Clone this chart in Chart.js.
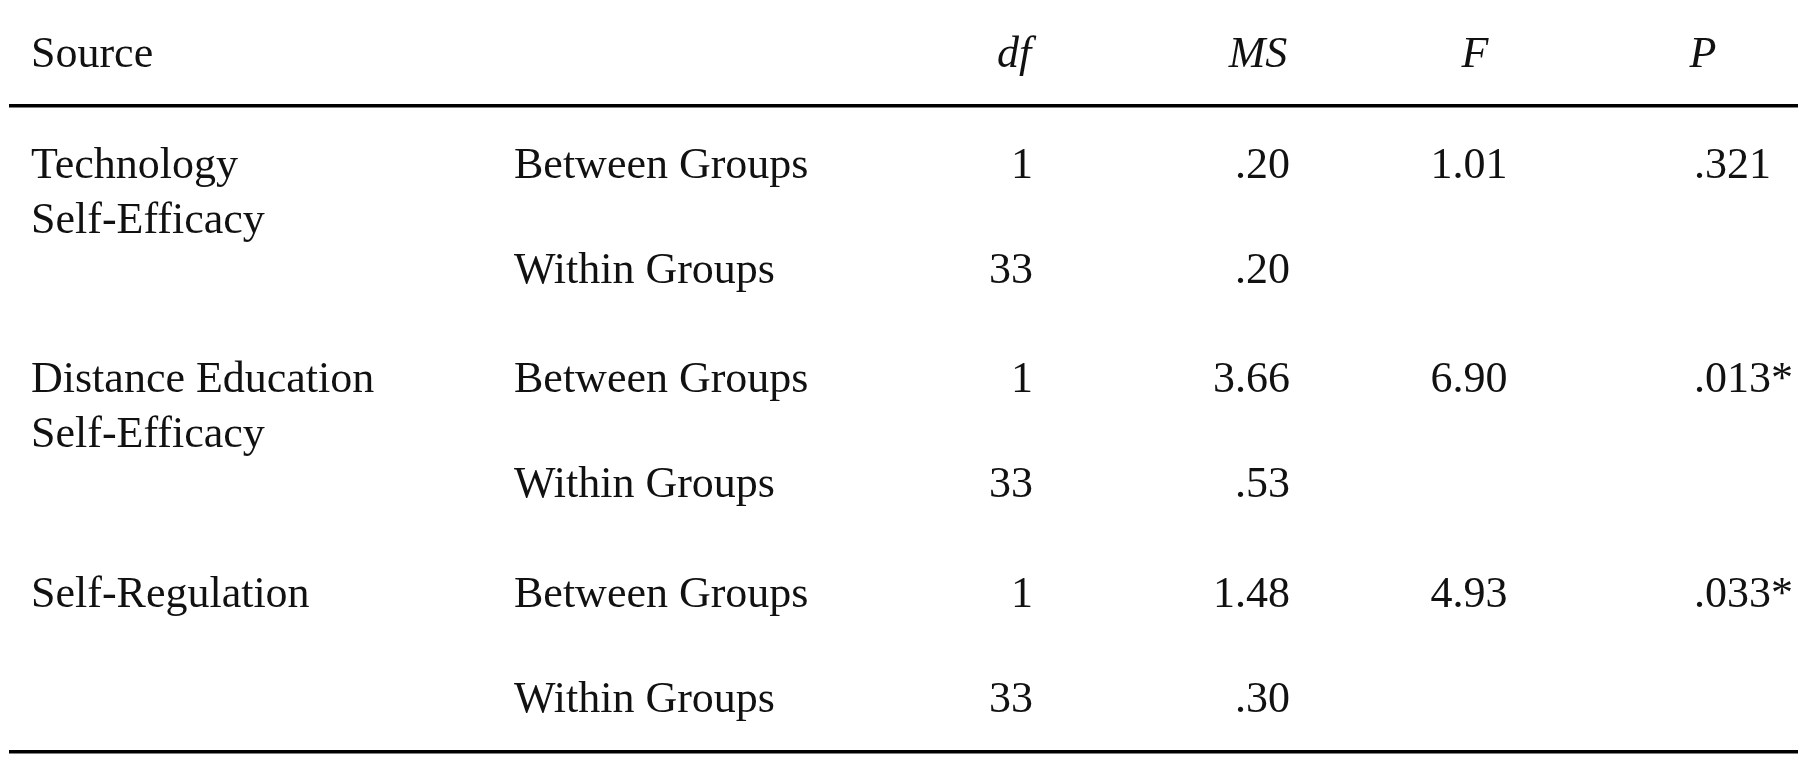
<!DOCTYPE html>
<html><head><meta charset="utf-8">
<script src="https://cdn.jsdelivr.net/npm/chart.js@4"></script>
<style>html,body{margin:0;padding:0;background:#fff}canvas{display:block}</style>
</head><body>
<canvas id="c" width="1798" height="757"></canvas>
<script>
const headers = ["Source", "", "df", "MS", "F", "P"];
const sources = ["Technology\nSelf-Efficacy", "Distance Education\nSelf-Efficacy", "Self-Regulation"];
const groups = ["Between Groups", "Within Groups"];
const dfValues = [["1","33"],["1","33"],["1","33"]];
const msValues = [[".20",".20"],["3.66",".53"],["1.48",".30"]];
const fValues = ["1.01","6.90","4.93"];
const pValues = [".321",".013*",".033*"];

const font = '44px "Liberation Serif"';
const ifont = 'italic 44px "Liberation Serif"';
const tablePlugin = {
  id: 'table',
  afterDraw(chart) {
    const ctx = chart.ctx;
    ctx.save();
    ctx.fillStyle = '#111';
    ctx.textBaseline = 'alphabetic';
    ctx.font = font; ctx.textAlign = 'left';
    ctx.fillText(headers[0], 31, 67);
    ctx.font = ifont; ctx.textAlign = 'center';
    ctx.fillText(headers[2], 1014, 67);
    ctx.fillText(headers[3], 1258, 67);
    ctx.fillText(headers[4], 1475, 67);
    ctx.fillText(headers[5], 1703, 67);
    ctx.fillStyle = '#000';
    ctx.fillRect(9, 104, 1789, 3.5);
    ctx.fillRect(9, 750, 1789, 3.5);
    ctx.fillStyle = '#111';
    ctx.font = font;
    const rowTop = [178, 392, 607];
    sources.forEach((s, i) => {
      const y = rowTop[i];
      ctx.textAlign = 'left';
      s.split('\n').forEach((ln, k) => ctx.fillText(ln, 31, y + k * 55));
      groups.forEach((g, j) => {
        const yy = y + j * 105;
        ctx.textAlign = 'left';
        ctx.fillText(g, 514, yy);
        ctx.textAlign = 'right';
        ctx.fillText(dfValues[i][j], 1033, yy);
        ctx.fillText(msValues[i][j], 1290, yy);
      });
      ctx.textAlign = 'center';
      ctx.fillText(fValues[i], 1469, y);
      ctx.textAlign = 'left';
      ctx.fillText(pValues[i], 1694, y);
    });
    ctx.restore();
  }
};
new Chart(document.getElementById('c'), {
  type: 'bar',
  data: { labels: [], datasets: [] },
  options: {
    responsive: false, animation: false, devicePixelRatio: 1,
    plugins: { legend: { display: false }, tooltip: { enabled: false } },
    scales: { x: { display: false }, y: { display: false } }
  },
  plugins: [tablePlugin]
});
</script>
</body></html>
